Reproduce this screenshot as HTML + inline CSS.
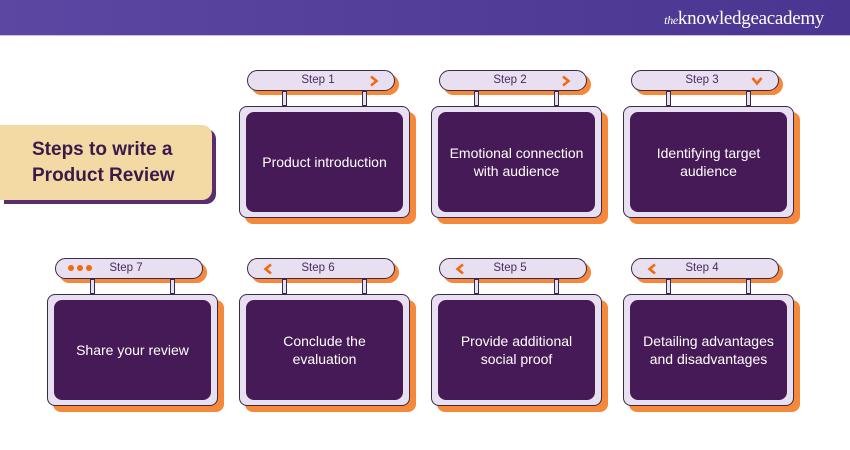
<!DOCTYPE html>
<html><head><meta charset="utf-8"><style>
*{margin:0;padding:0;box-sizing:border-box}
body{width:850px;height:450px;background:#fff;position:relative;overflow:hidden;font-family:"Liberation Sans",sans-serif}
.hdr{position:absolute;left:0;top:0;width:850px;height:36px;background:linear-gradient(90deg,#5c47a3,#4a3590);border-bottom:1px solid #c9c0e0}
.logo{position:absolute;right:26px;top:8px;color:#fff;font-family:"Liberation Serif",serif;font-size:19px;letter-spacing:-0.3px}
.logo i{font-size:12px}
.lbl{position:absolute;left:0;top:125px;width:212px;height:75px;background:#f3d9a4;border-radius:0 10px 10px 0;box-shadow:4px 4px 0 #5a2d6e}
.lbl div{position:absolute;left:32px;top:12px;font-weight:bold;font-size:19px;line-height:26px;color:#3b1a4a}
.c{position:absolute;width:180px;height:160px}
.pill{position:absolute;left:8px;top:0;width:148px;height:21px;background:#e8dff0;border:1px solid #3a2a4a;border-radius:11px;box-shadow:4px 4px 0 #f5883a;font-size:11.5px;color:#4a2a5e}
.pill span{position:absolute;top:2px;left:-4px;width:148px;text-align:center;line-height:15px}
.post{position:absolute;top:21px;width:5px;height:15px;background:#e8dff0;border:1px solid #3a2a4a}
.frame{position:absolute;left:0;top:36px;width:171px;height:112px;background:#e8dff0;border:1px solid #3a2a4a;border-radius:8px;box-shadow:6px 6px 0 #f5883a}
.inner{position:absolute;left:6px;top:5px;width:157px;height:100px;background:#461a56;border-radius:8px;display:flex;align-items:center;justify-content:center;text-align:center;color:#fff;font-size:14px;line-height:18px;padding:0 6px}
.ar{position:absolute;top:4px}
.dots{position:absolute;left:12px;top:6px;line-height:0}
.dots b{display:inline-block;width:6px;height:6px;border-radius:3px;background:#f06a10;margin-right:3px}
</style></head><body>
<div class="hdr"><div class="logo"><i>the</i>knowledgeacademy</div></div>
<div class="lbl"><div>Steps to write a<br>Product Review</div></div>

<div class="c" style="left:239px;top:70px"><div class="pill"><span>Step 1</span><svg class="ar" style="left:121px" width="10" height="12"><path d="M2 1.5 L7.5 6 L2 10.5" fill="none" stroke="#f06a10" stroke-width="2.6"/></svg></div><div class="post" style="left:43px"></div><div class="post" style="left:123px"></div><div class="frame"><div class="inner">Product introduction</div></div></div>
<div class="c" style="left:431px;top:70px"><div class="pill"><span>Step 2</span><svg class="ar" style="left:121px" width="10" height="12"><path d="M2 1.5 L7.5 6 L2 10.5" fill="none" stroke="#f06a10" stroke-width="2.6"/></svg></div><div class="post" style="left:43px"></div><div class="post" style="left:123px"></div><div class="frame"><div class="inner">Emotional connection with audience</div></div></div>
<div class="c" style="left:623px;top:70px"><div class="pill"><span>Step 3</span><svg class="ar" style="left:119px;top:5px" width="12" height="10"><path d="M1.5 2 L6 7.5 L10.5 2" fill="none" stroke="#f06a10" stroke-width="2.6"/></svg></div><div class="post" style="left:43px"></div><div class="post" style="left:123px"></div><div class="frame"><div class="inner">Identifying target audience</div></div></div>

<div class="c" style="left:47px;top:258px"><div class="pill"><div class="dots"><b></b><b></b><b></b></div><span>Step 7</span></div><div class="post" style="left:43px"></div><div class="post" style="left:123px"></div><div class="frame"><div class="inner">Share your review</div></div></div>
<div class="c" style="left:239px;top:258px"><div class="pill"><svg class="ar" style="left:15px" width="10" height="12"><path d="M8 1.5 L2.5 6 L8 10.5" fill="none" stroke="#f06a10" stroke-width="2.6"/></svg><span>Step 6</span></div><div class="post" style="left:43px"></div><div class="post" style="left:123px"></div><div class="frame"><div class="inner">Conclude the evaluation</div></div></div>
<div class="c" style="left:431px;top:258px"><div class="pill"><svg class="ar" style="left:15px" width="10" height="12"><path d="M8 1.5 L2.5 6 L8 10.5" fill="none" stroke="#f06a10" stroke-width="2.6"/></svg><span>Step 5</span></div><div class="post" style="left:43px"></div><div class="post" style="left:123px"></div><div class="frame"><div class="inner">Provide additional social proof</div></div></div>
<div class="c" style="left:623px;top:258px"><div class="pill"><svg class="ar" style="left:15px" width="10" height="12"><path d="M8 1.5 L2.5 6 L8 10.5" fill="none" stroke="#f06a10" stroke-width="2.6"/></svg><span>Step 4</span></div><div class="post" style="left:43px"></div><div class="post" style="left:123px"></div><div class="frame"><div class="inner">Detailing advantages and disadvantages</div></div></div>
</body></html>
